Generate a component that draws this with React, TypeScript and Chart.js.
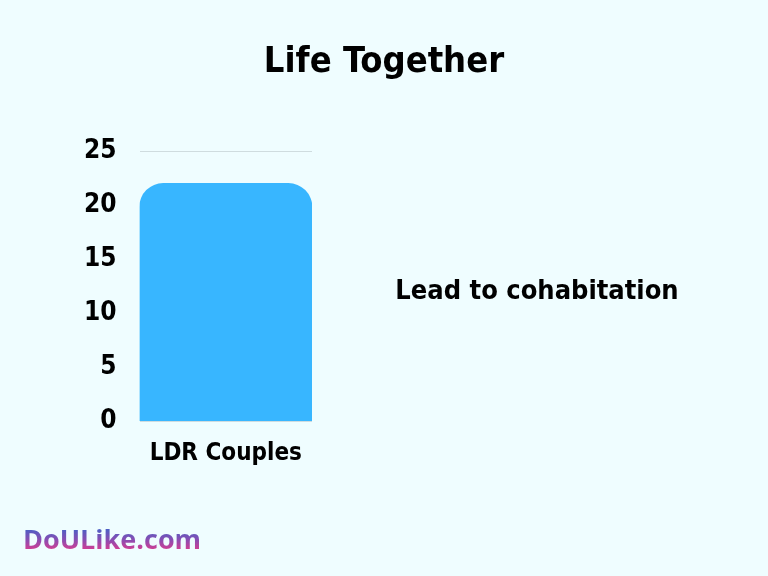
import React, { useEffect, useRef } from "react";
import { Chart, registerables } from "chart.js";

Chart.register(...registerables);

const categories = ["LDR Couples"];
const seriesLabel = "Lead to cohabitation";
const values = [22];
const yTicks = [0, 5, 10, 15, 20, 25];
const titleText = "Life Together";

const FONT = "'Liberation Sans Narrow', 'DejaVu Sans Condensed', sans-serif";

const textOverlay = {
  id: "textOverlay",
  afterDraw(chart: any) {
    const { ctx, chartArea, width } = chart;
    const label = chart.data.datasets[0].label;
    ctx.save();
    ctx.fillStyle = "#000";
    ctx.textAlign = "center";
    ctx.textBaseline = "middle";
    ctx.font = `bold 27px ${FONT}`;
    ctx.fillText(label, (chartArea.right + width) / 2 - 3, (chartArea.top + chartArea.bottom) / 2 + 6);
    ctx.font = `bold 36px ${FONT}`;
    ctx.fillText(titleText, width / 2, 63);
    ctx.restore();
  },
};

export default function App() {
  const ref = useRef<HTMLCanvasElement | null>(null);
  useEffect(() => {
    if (!ref.current) return;
    const chart = new Chart(ref.current, {
      type: "bar",
      data: {
        labels: categories,
        datasets: [
          {
            label: seriesLabel,
            data: values,
            backgroundColor: "#38b6ff",
            borderRadius: { topLeft: 24, topRight: 24, bottomLeft: 0, bottomRight: 0 },
            borderSkipped: false,
            categoryPercentage: 1,
            barPercentage: 1,
          },
        ],
      },
      options: {
        responsive: false,
        animation: false,
        layout: { padding: { left: 61, right: 456, top: 151, bottom: 98 } },
        plugins: {
          title: { display: false },
          legend: { display: false },
          tooltip: { enabled: false },
        },
        scales: {
          x: {
            grid: { display: false },
            border: { display: false },
            ticks: {
              color: "#000",
              font: { family: FONT, size: 24, weight: "bold" },
              padding: 10,
              maxRotation: 0,
              minRotation: 0,
              autoSkip: false,
            },
          },
          y: {
            min: 0,
            max: 25,
            afterBuildTicks: (axis: any) => {
              axis.ticks = yTicks.map((v) => ({ value: v }));
            },
            grid: { color: "#cfdcdf", drawTicks: false },
            border: { display: false },
            ticks: { color: "#000", font: { family: FONT, size: 26, weight: "bold" }, padding: 23 },
          },
        },
      },
      plugins: [textOverlay],
    });
    return () => chart.destroy();
  }, []);
  return (
    <div style={{ position: "absolute", left: 0, top: 0, width: 768, height: 576, background: "#effdff", overflow: "hidden" }}>
      <canvas ref={ref} width={768} height={576} style={{ position: "absolute", left: 0, top: 0 }} />
      <div
        style={{
          position: "absolute",
          left: 23,
          top: 525,
          fontFamily: "'Open Sans', 'Noto Sans', sans-serif",
          fontWeight: 700,
          fontSize: 27,
          lineHeight: "27px",
          background: "linear-gradient(180deg, #3366cc 0%, #8a4db2 55%, #e23a8c 100%)",
          WebkitBackgroundClip: "text",
          backgroundClip: "text",
          color: "transparent",
        }}
      >
        DoULike.com
      </div>
    </div>
  );
}
